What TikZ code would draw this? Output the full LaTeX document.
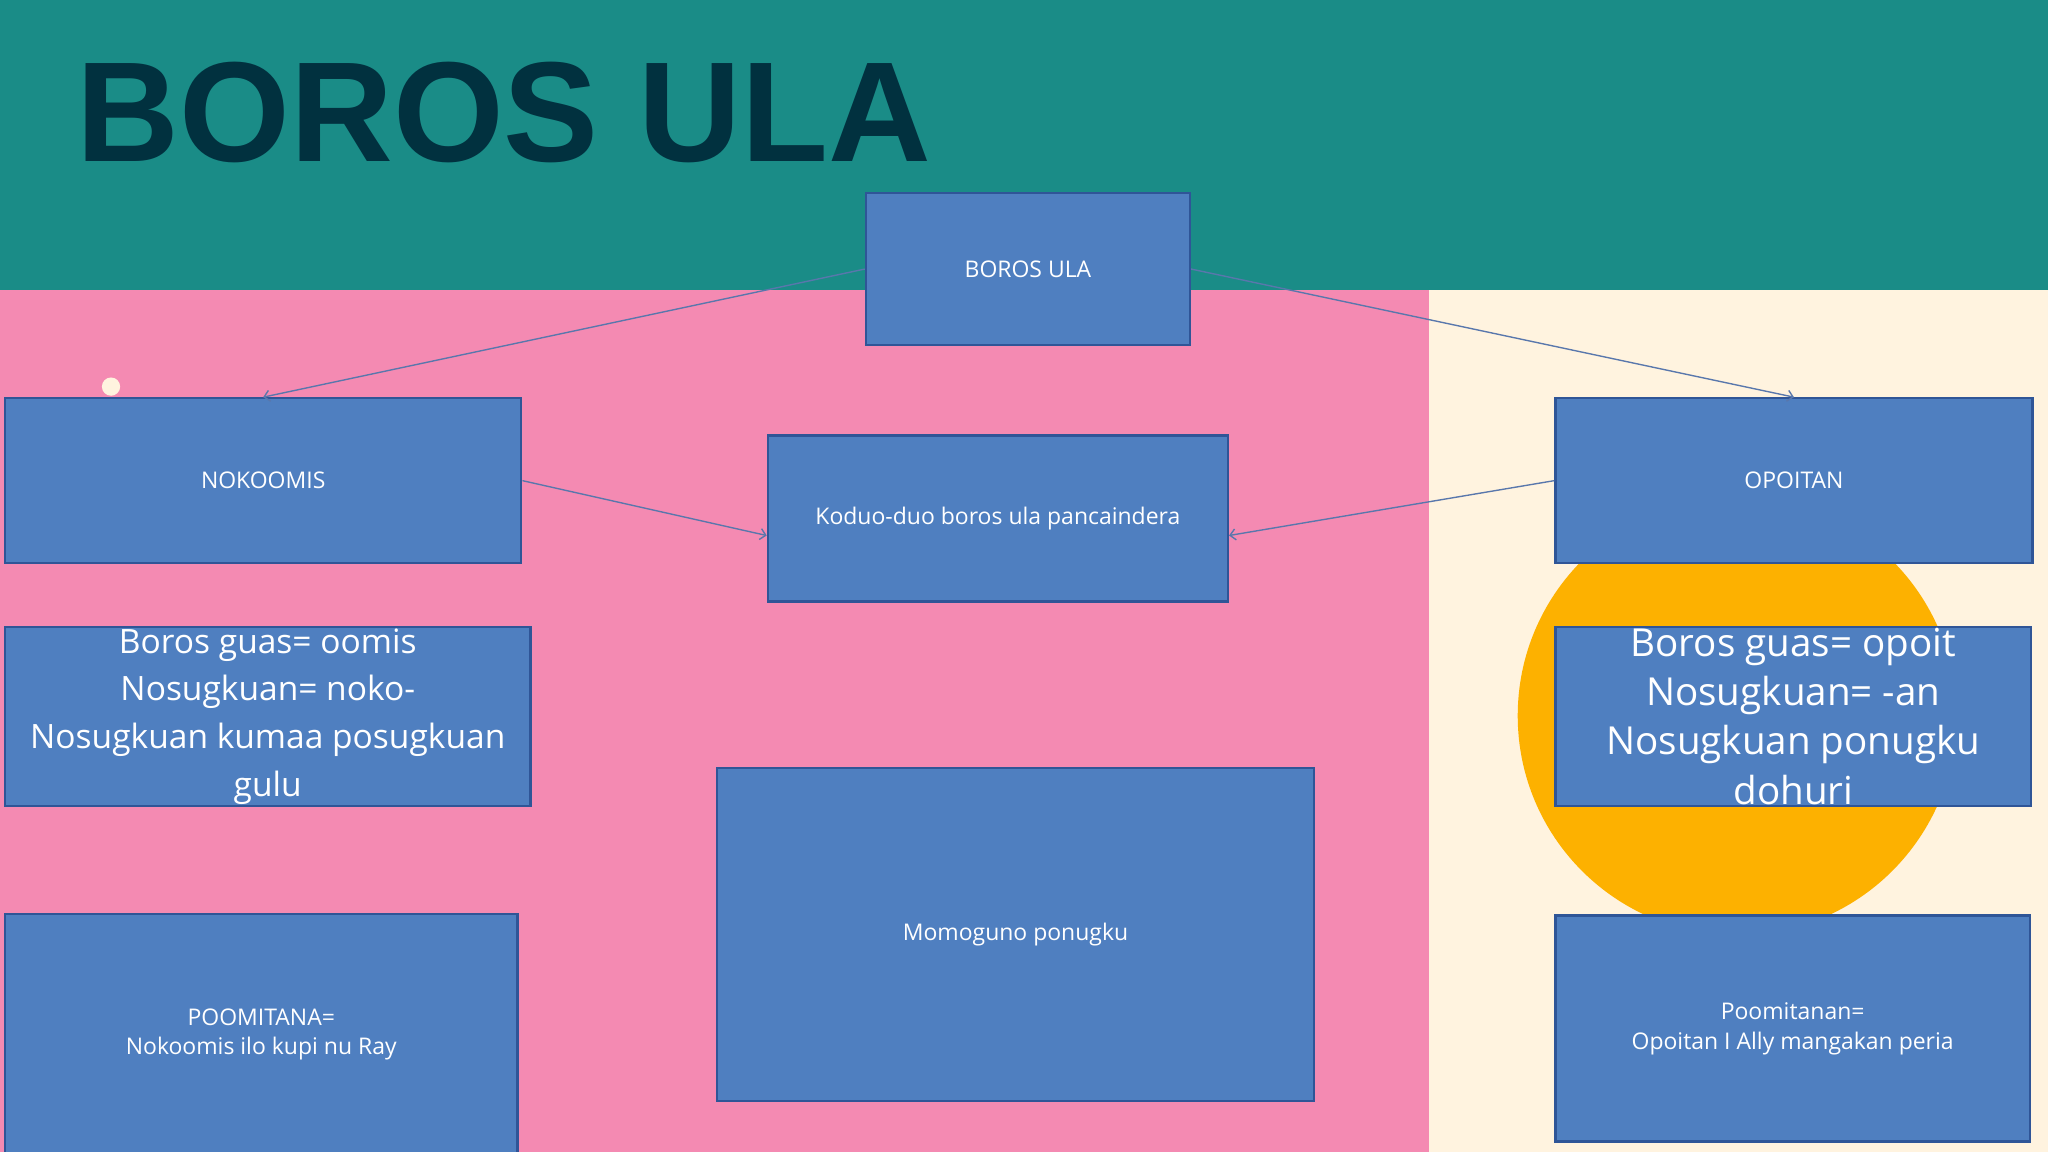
\documentclass[tikz,border=0pt]{standalone}
\usepackage{fontspec}
\setmainfont{Open Sans}
\newfontfamily\titlefont{Liberation Sans}
\definecolor{teal}{HTML}{1A8C87}
\definecolor{pinkbg}{HTML}{F48AB2}
\definecolor{cream}{HTML}{FFF3DF}
\definecolor{sun}{HTML}{FDB100}
\definecolor{ink}{HTML}{01313F}
\definecolor{boxfill}{HTML}{4F7FC0}
\definecolor{boxline}{HTML}{2F5597}
\tikzset{
  box/.style={draw=boxline, fill=boxfill, line width=0.5pt, text=white,
    inner sep=0pt, align=center, font=\fontsize{5}{6.5}\selectfont},
  bigbox/.style={box, font=\fontsize{7.3}{10.4}\selectfont},
  link/.style={draw=boxline!80, line width=0.3pt, -{Straight Barb[length=1.2pt]}}
}
\usetikzlibrary{arrows.meta}
\begin{document}
\begin{tikzpicture}[x=0.01cm, y=-0.01cm]
  % Background
  \useasboundingbox (0,0) rectangle (1568,882);
  \fill[teal] (0,0) rectangle (1568,222);
  \fill[pinkbg] (0,222) rectangle (1094,882);
  \fill[cream] (1094,222) rectangle (1568,882);
  \fill[sun] (1330,548) circle (168);
  \fill[cream] (85,296) circle (7);

  % Title
  \node[anchor=west, text=ink, inner sep=0pt, font=\titlefont\bfseries\fontsize{31}{31}\selectfont]
    (title) at (58,86) {BOROS ULA};

  % Boxes
  \node[box, minimum width=2.48cm, minimum height=1.16cm] (root) at (787,206) {BOROS ULA};
  \node[box, minimum width=3.95cm, minimum height=1.26cm] (nokoomis) at (201.5,368) {NOKOOMIS};
  \node[box, minimum width=3.52cm, minimum height=1.27cm] (koduo) at (764,397) {Koduo-duo boros ula pancaindera};
  \node[box, minimum width=3.65cm, minimum height=1.26cm] (opoitan) at (1373.5,368) {OPOITAN};
  \node[bigbox, minimum width=4.02cm, minimum height=1.37cm] (guasl) at (205,548.5)
    {Boros guas= oomis\\Nosugkuan= noko-\\Nosugkuan kumaa posugkuan\\gulu};
  \node[bigbox, minimum width=3.64cm, minimum height=1.37cm, font=\fontsize{8.4}{10.7}\selectfont] (guasr) at (1373,548.5)
    {Boros guas= opoit\\Nosugkuan= -an\\Nosugkuan ponugku\\dohuri};
  \node[box, minimum width=4.57cm, minimum height=2.55cm] (momo) at (777.5,715.5) {Momoguno ponugku};
  \node[box, minimum width=3.92cm, minimum height=1.84cm] (poomitana) at (200,792)
    {POOMITANA=\\Nokoomis ilo kupi nu Ray};
  \node[box, minimum width=3.63cm, minimum height=1.73cm] (poomitanan) at (1372.5,787.5)
    {Poomitanan=\\Opoitan I Ally mangakan peria};

  % Links
  \draw[link] (root.west) -- (nokoomis.north);
  \draw[link] (root.east) -- (opoitan.north);
  \draw[link] (nokoomis.east) -- ([yshift=-0.13cm]koduo.west);
  \draw[link] (opoitan.west) -- ([yshift=-0.13cm]koduo.east);
\end{tikzpicture}
\end{document}
